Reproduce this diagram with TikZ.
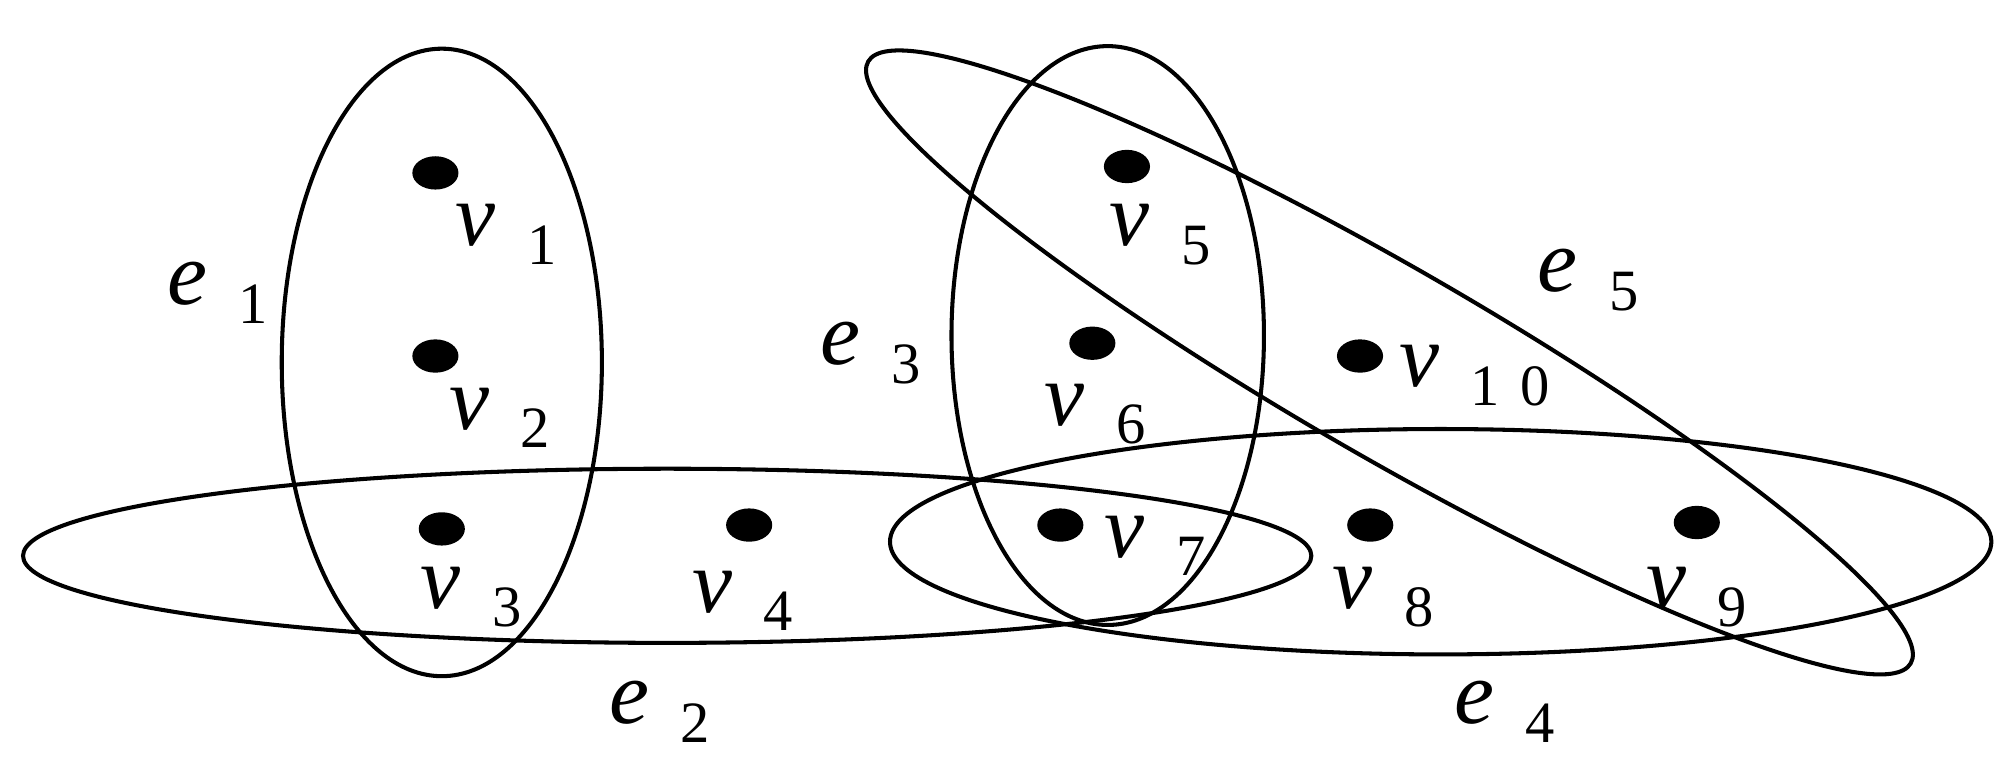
\documentclass[tikz,border=0pt]{standalone}
\usepackage{fontspec}
\usetikzlibrary{shapes.geometric}
\setmainfont{Liberation Serif}
\newcommand{\lab}[2]{\fontsize{20}{22}\selectfont\textit{#1}\hspace{0.35em}\raisebox{-0.45ex}{\fontsize{13}{14}\selectfont #2}}
\begin{document}
\begin{tikzpicture}[x=0.01cm,y=-0.01cm,
  edge/.style={draw=black,line width=0.9pt},
  vtx/.style={ellipse,fill=black,minimum width=0.36cm,minimum height=0.26cm,inner sep=0pt},
  lbl/.style={inner sep=0pt,anchor=base west}]
\useasboundingbox (0,0) rectangle (1568,608);
\draw[edge] (345,283) ellipse [x radius=125,y radius=245];
\draw[edge] (521,434) ellipse [x radius=503,y radius=68];
\draw[edge] (865,262) ellipse [x radius=122,y radius=226];
\draw[edge] (1125,423) ellipse [x radius=430,y radius=88];
\draw[edge,rotate around={-30:(1085,283)}] (1085,283) ellipse [x radius=470,y radius=74];
\node[vtx] (v1) at (340,135) {};
\node[vtx] (v2) at (340,278) {};
\node[vtx] (v3) at (345,413) {};
\node[vtx] (v4) at (585,410) {};
\node[vtx] (v5) at (880,130) {};
\node[vtx] (v6) at (853,268) {};
\node[vtx] (v7) at (828,410) {};
\node[vtx] (v8) at (1070,410) {};
\node[vtx] (v9) at (1325,408) {};
\node[vtx] (v10) at (1062,278) {};
\node[lbl] (l1) at (355,192) {\lab{v}{1}};
\node[lbl] (l2) at (350,335) {\lab{v}{2}};
\node[lbl] (l3) at (328,475) {\lab{v}{3}};
\node[lbl] (l4) at (540,478) {\lab{v}{4}};
\node[lbl] (l5) at (866,192) {\lab{v}{5}};
\node[lbl] (l6) at (815,332) {\lab{v}{6}};
\node[lbl] (l7) at (862,435) {\lab{v}{7}};
\node[lbl] (l8) at (1040,475) {\lab{v}{8}};
\node[lbl] (l9) at (1285,475) {\lab{v}{9}};
\node[lbl] (l10) at (1092,302) {\lab{v}{1\hspace{0.35em}0}};
\node[lbl] (le1) at (130,238) {\lab{e}{1}};
\node[lbl] (le2) at (475,565) {\lab{e}{2}};
\node[lbl] (le3) at (640,285) {\lab{e}{3}};
\node[lbl] (le4) at (1135,565) {\lab{e}{4}};
\node[lbl] (le5) at (1200,228) {\lab{e}{5}};
\end{tikzpicture}
\end{document}
